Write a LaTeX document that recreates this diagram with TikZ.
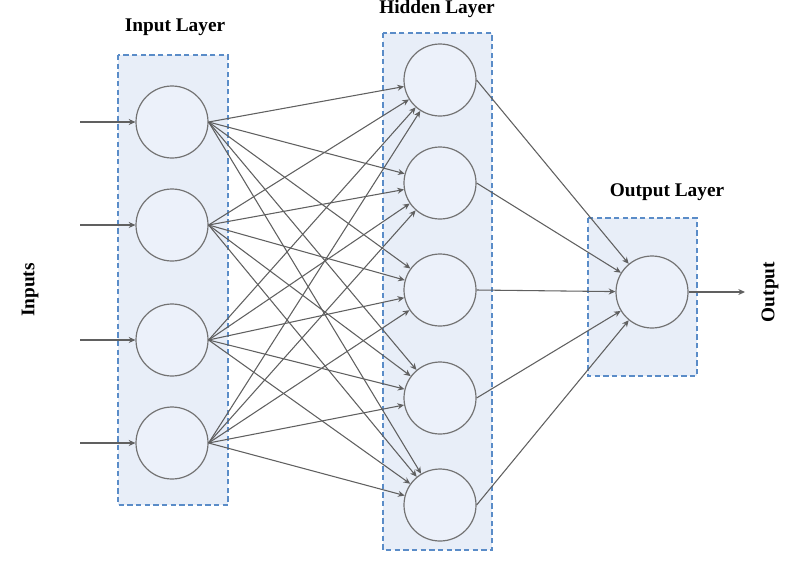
\documentclass[tikz,border=0pt]{standalone}
\usepackage{fontspec}
\setmainfont{Liberation Serif}
\usetikzlibrary{arrows.meta}
\definecolor{boxc}{RGB}{90,140,200}
\definecolor{boxf}{RGB}{232,238,248}
\definecolor{cf}{RGB}{236,241,250}
\begin{document}
\begin{tikzpicture}[x=0.75pt,y=-0.75pt,
  box/.style={draw=boxc,line width=1.1pt,fill=boxf,dash pattern=on 4pt off 2.5pt},
  neuron/.style={circle,draw=gray!90!black,line width=0.9pt,fill=cf,minimum size=54pt,inner sep=0},
  conn/.style={draw=gray!75!black,line width=0.8pt,-{Stealth[length=5pt,width=4.5pt]}},
  lab/.style={font=\bfseries\fontsize{14.5}{16}\selectfont}]
\useasboundingbox (0,0) rectangle (812,568);
\draw[box] (118,55) rectangle (228,505);
\draw[box] (383,33) rectangle (492,550);
\draw[box] (588,218) rectangle (697,376);
\foreach \i/\y in {1/122,2/225,3/340,4/443} \node[neuron] (i\i) at (172,\y) {};
\foreach \i/\y in {1/80,2/183,3/290,4/398,5/505} \node[neuron] (h\i) at (440,\y) {};
\node[neuron] (o) at (652,292) {};
\foreach \i/\y in {1/122,2/225,3/340,4/443} {
  \coordinate (s\i) at (80,\y);
  \draw[conn] (s\i) -- (i\i);
}
\foreach \i in {1,...,4} \foreach \j in {1,...,5} \draw[conn] (i\i.east) -- (h\j);
\foreach \j in {1,...,5} \draw[conn] (h\j.east) -- (o);
\coordinate (out) at (745,292);
\draw[conn] (o) -- (out);
\node[lab] (l1) at (175,27) {Input Layer};
\node[lab] (l2) at (437,9) {Hidden Layer};
\node[lab] (l3) at (667,192) {Output Layer};
\node[lab,rotate=90] (l4) at (30,290) {Inputs};
\node[lab,rotate=90] (l5) at (770,292) {Output};
\end{tikzpicture}
\end{document}
